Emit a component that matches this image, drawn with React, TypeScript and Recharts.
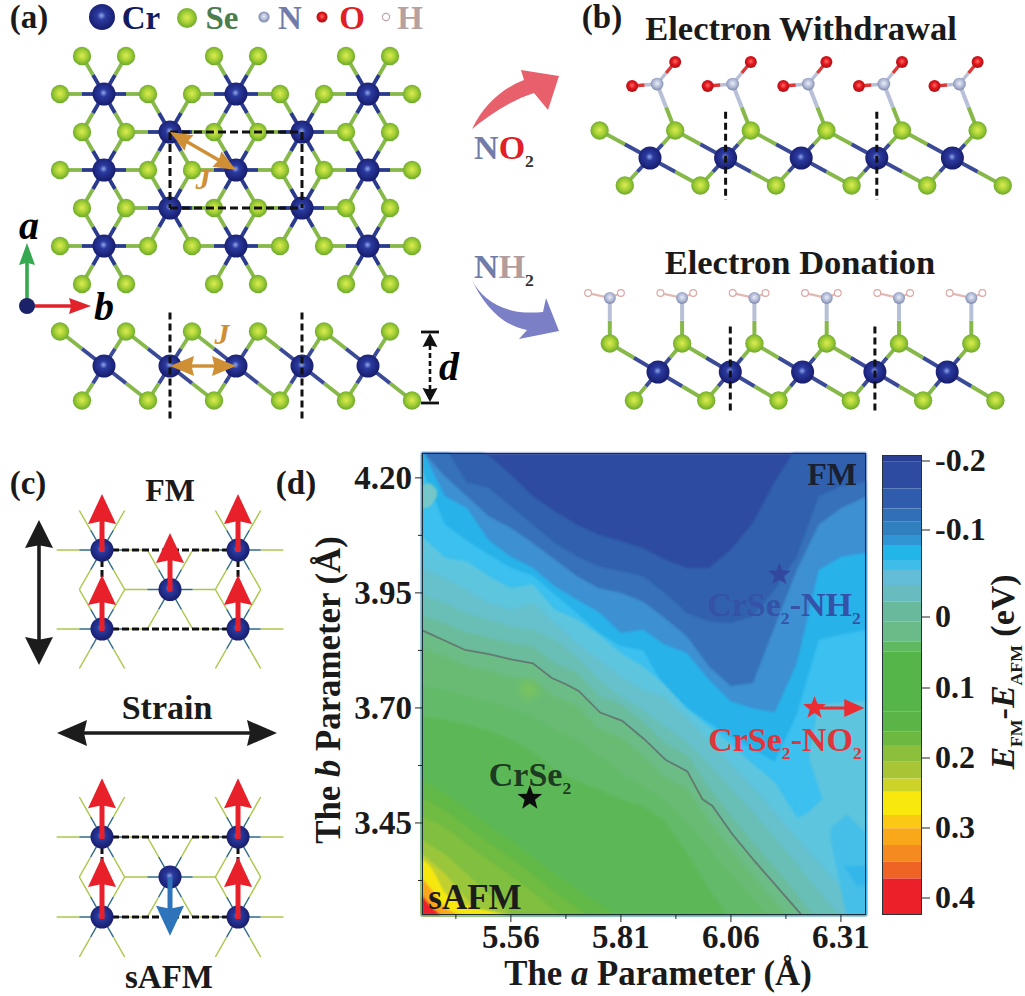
import React from 'react';
import {
  Area, Bar, BarChart, ComposedChart, Line, Scatter, ScatterChart, XAxis, YAxis,
} from 'recharts';

const W = 1025;
const H = 996;

// ---- panel (d) heat map: contour edges, b value at each a column
const aColumns = [5.35, 5.41, 5.46, 5.51, 5.56, 5.61, 5.66, 5.71, 5.76, 5.81, 5.86, 5.91, 5.96, 6.01, 6.06, 6.11, 6.16, 6.21, 6.26, 6.31, 6.37];
const edgeTop = [4.3, 4.3, 4.3, 4.3, 4.3, 4.3, 4.3, 4.3, 4.3, 4.3, 4.3, 4.3, 4.3, 4.3, 4.3, 4.3, 4.3, 4.3, 4.3, 4.3, 4.3];
const edge1 = [4.29, 4.283, 4.265, 4.248, 4.207, 4.16, 4.127, 4.098, 4.076, 4.062, 4.047, 4.022, 4.004, 4.004, 4.044, 4.102, 4.192, 4.268, 4.283, 4.29, 4.29];
const edge2 = [4.283, 4.268, 4.19, 4.178, 4.138, 4.098, 4.058, 4.029, 4.007, 3.997, 3.986, 3.95, 3.906, 3.888, 3.884, 3.899, 3.957, 4.029, 4.16, 4.181, 4.192];
const edge3 = [4.268, 4.203, 4.16, 4.116, 4.091, 4.058, 4.022, 3.986, 3.96, 3.95, 3.931, 3.895, 3.855, 3.79, 3.747, 3.754, 3.877, 4.0, 4.098, 4.134, 4.16];
const edge4 = [4.276, 4.16, 4.134, 4.064, 4.028, 4.004, 3.964, 3.935, 3.908, 3.863, 3.87, 3.837, 3.819, 3.761, 3.714, 3.699, 3.69, 3.797, 4.0, 4.028, 4.037];
const edge5 = [4.24, 4.098, 4.064, 4.033, 4.004, 3.987, 3.946, 3.906, 3.863, 3.834, 3.825, 3.744, 3.701, 3.668, 3.636, 3.61, 3.583, 3.686, 3.848, 3.859, 3.87];
const edge6 = [4.08, 4.026, 4.018, 3.986, 3.96, 3.968, 3.913, 3.892, 3.859, 3.819, 3.79, 3.75, 3.697, 3.659, 3.621, 3.578, 3.538, 3.462, 3.708, 3.712, 3.715];
const edge7 = [4.007, 3.982, 3.957, 3.928, 3.913, 3.928, 3.884, 3.841, 3.805, 3.768, 3.739, 3.723, 3.679, 3.629, 3.578, 3.527, 3.473, 3.418, 3.364, 3.31, 3.259];
const edge8 = [3.949, 3.928, 3.906, 3.892, 3.877, 3.87, 3.848, 3.812, 3.761, 3.725, 3.696, 3.661, 3.625, 3.578, 3.527, 3.473, 3.418, 3.36, 3.302, 3.244, 3.188];
const edge9 = [3.904, 3.884, 3.863, 3.853, 3.841, 3.833, 3.797, 3.777, 3.726, 3.708, 3.67, 3.623, 3.598, 3.527, 3.465, 3.407, 3.353, 3.295, 3.232, 3.174, 3.116];
const edge10 = [3.868, 3.848, 3.826, 3.817, 3.805, 3.797, 3.761, 3.741, 3.69, 3.672, 3.633, 3.586, 3.562, 3.491, 3.429, 3.371, 3.317, 3.259, 3.195, 3.137, 3.079];
const edge11 = [3.831, 3.812, 3.79, 3.781, 3.768, 3.761, 3.725, 3.704, 3.654, 3.636, 3.597, 3.55, 3.525, 3.454, 3.393, 3.335, 3.28, 3.222, 3.16, 3.1, 3.04];
const edge12 = [3.747, 3.739, 3.725, 3.714, 3.7, 3.681, 3.653, 3.631, 3.595, 3.558, 3.529, 3.5, 3.45, 3.392, 3.341, 3.283, 3.225, 3.167, 3.11, 3.05, 3.0];
const edge13 = [3.681, 3.674, 3.663, 3.649, 3.631, 3.602, 3.566, 3.54, 3.522, 3.5, 3.486, 3.453, 3.384, 3.304, 3.239, 3.167, 3.094, 3.0, 2.95, 2.9, 2.85];
const edge14 = [3.549, 3.513, 3.48, 3.443, 3.411, 3.375, 3.338, 3.306, 3.273, 3.244, 3.21];
const edge15 = [3.509, 3.477, 3.442, 3.406, 3.373, 3.337, 3.299, 3.265, 3.23];
const edge16 = [3.469, 3.44, 3.404, 3.368, 3.335, 3.299, 3.259, 3.223, 3.19];
const edge17 = [3.418, 3.382, 3.339, 3.295, 3.252, 3.208];
const edge18 = [3.389, 3.339, 3.284, 3.23];
const edges = [edgeTop, edge1, edge2, edge3, edge4, edge5, edge6, edge7, edge8, edge9, edge10, edge11, edge12, edge13, edge14, edge15, edge16, edge17, edge18];
const edgeColors = ['#2d4ba1', '#3060ae', '#3671b9', '#3d90d2', '#27b2e9', '#3bc0ef', '#5ec5de', '#66c1cc', '#69bfb6', '#6abc9d', '#6cbc86', '#69bb74', '#63ba68', '#5cb856', '#62b947', '#70bb42', '#80bf3f', '#9ac63b', '#c2d02f'];

const yellowZone = [{ a: 5.35, b: 3.375 }, { a: 5.381, b: 3.35 }, { a: 5.41, b: 3.299 }, { a: 5.46, b: 3.27 }, { a: 5.51, b: 3.259 }, { a: 5.56, b: 3.248 }];
const orangeZone = [{ a: 5.35, b: 3.339 }, { a: 5.381, b: 3.303 }, { a: 5.41, b: 3.266 }, { a: 5.46, b: 3.248 }];
const redZone = [{ a: 5.35, b: 3.303 }, { a: 5.381, b: 3.266 }, { a: 5.403, b: 3.248 }];
const paleStrip = [{ a: 5.35, lo: 4.131, hi: 4.182 }, { a: 5.377, lo: 4.138, hi: 4.189 }, { a: 5.392, lo: 4.16, hi: 4.174 }];
const cyanSpike = [{ a: 6.21, lo: 3.46, hi: 3.47 }, { a: 6.234, lo: 3.472, hi: 3.6 }, { a: 6.268, lo: 3.502, hi: 3.502 }];
const cyanRight = [{ a: 6.287, lo: 3.411, hi: 3.44 }, { a: 6.325, lo: 3.24, hi: 3.469 }, { a: 6.347, lo: 3.24, hi: 3.447 }, { a: 6.37, lo: 3.24, hi: 3.426 }];
const cyanCorner = [{ a: 6.317, lo: 3.357, hi: 3.357 }, { a: 6.347, lo: 3.313, hi: 3.357 }, { a: 6.37, lo: 3.317, hi: 3.357 }];
const zeroContour = [
  { a: 5.36, b: 3.868 }, { a: 5.456, b: 3.826 }, { a: 5.51, b: 3.817 }, { a: 5.563, b: 3.805 }, { a: 5.61, b: 3.797 },
  { a: 5.653, b: 3.765 }, { a: 5.684, b: 3.752 }, { a: 5.714, b: 3.737 }, { a: 5.763, b: 3.69 }, { a: 5.813, b: 3.672 },
  { a: 5.863, b: 3.632 }, { a: 5.912, b: 3.587 }, { a: 5.961, b: 3.562 }, { a: 5.995, b: 3.502 }, { a: 6.018, b: 3.487 },
  { a: 6.063, b: 3.426 }, { a: 6.113, b: 3.368 }, { a: 6.166, b: 3.31 }, { a: 6.219, b: 3.252 },
];
const greenSpot = [{ a: 5.6, b: 3.74 }];
const pristineStar = [{ a: 5.603, b: 3.504 }];
const nh2Star = [{ a: 6.17, b: 3.99 }];
const no2Star = [{ a: 6.25, b: 3.7 }];
const no2Shift = [{ a: 6.25, b: 3.7 }, { a: 6.335, b: 3.7 }];
const no2Tip = [{ a: 6.363, b: 3.7 }];

const aMajor = [5.56, 5.81, 6.06, 6.31];
const aTicks = [5.435, 5.56, 5.685, 5.81, 5.935, 6.06, 6.185, 6.31];
const bMajor = [3.45, 3.7, 3.95, 4.2];
const bTicks = [3.325, 3.45, 3.575, 3.7, 3.825, 3.95, 4.075, 4.2];

// colour bar bands (span along the bar) and its uneven tick places
const barSpans = [6.7, 26.7, 20, 13.3, 13.3, 10, 15, 10, 15, 16.7, 20, 20, 10, 60, 20, 13.3, 16.7, 16.7, 13.3, 23.3, 13.3, 16.7, 16.7, 16.7, 36.7];
const barColors = ['#2a3f94', '#2d4ba0', '#2f5cad', '#3070b8', '#3080c0', '#2f95d5', '#22b5e8', '#3dbde8', '#63bcd8', '#68bcc0', '#69ba9c', '#6abb88', '#60b860', '#55b548', '#5ab446', '#6cb840', '#8cbf3c', '#a8c536', '#cdd328', '#f9e80b', '#fbc914', '#f9a81a', '#f48a20', '#ef6424', '#ec2028'];
const barTicks = [6, 75, 162, 233, 303, 373, 443];
const barLabels = ['-0.2', '-0.1', '0', '0.1', '0.2', '0.3', '0.4'];

// ---- lattice sites, in units of the sheet each one is drawn on
const topCr = [[0, 0], [6, 0], [12, 0], [3, 1], [9, 1], [0, 2], [6, 2], [12, 2], [3, 3], [9, 3], [0, 4], [6, 4], [12, 4]];
const seOddRow = [-1, 1, 5, 7, 11, 13];
const seEvenRow = [-2, 2, 4, 8, 10, 14];
const seRows = [-1, 1, 3, 5];
const seEvenRows = [0, 2, 4];
const seOffsets = [[-2, 0], [2, 0], [-1, -1], [1, -1], [-1, 1], [1, 1]];
const sideCr = [0, 3, 6, 9, 12];
const sideSeTop = [-2, 1, 4, 7, 10, 13];
const sideSeBottom = [-1, 2, 5, 8, 11, 14];
const sideOffsets = [[-2, -1], [1, -1], [-1, 1], [2, 1]];
const cellCr = [[0, 0], [6, 0], [3, 1], [0, 2], [6, 2]];
const spinUpFm = [[0, 0, -1.42], [6, 0, -1.42], [3, 1, -0.43], [0, 2, 0.63], [6, 2, 0.63]];
const spinUpAfm = [[0, 0, -1.47], [6, 0, -1.47], [0, 2, 0.5], [6, 2, 0.5]];

const SERIF = '"Liberation Serif", serif';
const noDot = () => <g />;

const seg = (key: string, a: number[], b: number[], stroke: string, width: number, dash?: string) => (
  <Scatter
    key={key}
    data={[{ x: a[0], y: a[1] }, { x: b[0], y: b[1] }]}
    line={{ stroke, strokeWidth: width, strokeDasharray: dash }}
    shape={noDot}
    legendType="none"
    isAnimationActive={false}
  />
);

const bond = (key: string, a: number[], b: number[], colorA: string, colorB: string, width: number) => {
  const mid = [(a[0] + b[0]) / 2, (a[1] + b[1]) / 2];
  return [seg(key + 'a', a, mid, colorA, width), seg(key + 'b', mid, b, colorB, width)];
};

const balls = (key: string, sites: number[][], r: number, fill: string, stroke?: string) => (
  <Scatter
    key={key}
    data={sites.map(([x, y]) => ({ x, y }))}
    shape={(p: any) => <circle cx={p.cx} cy={p.cy} r={r} fill={fill} stroke={stroke} strokeWidth={stroke ? 1.2 : 0} />}
    legendType="none"
    isAnimationActive={false}
  />
);

const head = (key: string, tip: number[], deg: number, len: number, hw: number, color: string) => (
  <Scatter
    key={key}
    data={[{ x: tip[0], y: tip[1] }]}
    shape={(p: any) => (
      <polygon
        points={`0,0 ${-len},${hw} ${-len * 0.9},0 ${-len},${-hw}`}
        transform={`translate(${p.cx},${p.cy}) rotate(${deg})`}
        fill={color}
      />
    )}
    legendType="none"
    isAnimationActive={false}
  />
);

// arrow between two sheet points; ux, uy turn sheet units into pixels for the head angle
const arrow = (key: string, from: number[], to: number[], color: string, width: number, len: number, hw: number, both: boolean, ux: number, uy: number) => {
  const dx = (to[0] - from[0]) * ux;
  const dy = (to[1] - from[1]) * uy;
  const size = Math.hypot(dx, dy);
  const deg = (Math.atan2(dy, dx) * 180) / Math.PI;
  const t = (len * 0.8) / size;
  const end = [to[0] - (to[0] - from[0]) * t, to[1] - (to[1] - from[1]) * t];
  const start = both ? [from[0] + (to[0] - from[0]) * t, from[1] + (to[1] - from[1]) * t] : from;
  const parts = [seg(key + 's', start, end, color, width), head(key + 'h', to, deg, len, hw, color)];
  if (both) parts.push(head(key + 't', from, deg + 180, len, hw, color));
  return parts;
};

const Sheet = ({ ox, oy, ux, uy, children }: any) => (
  <div style={{ position: 'absolute', left: 0, top: 0 }}>
    <ScatterChart width={W} height={H} margin={{ top: 0, right: 0, bottom: 0, left: 0 }}>
      <XAxis type="number" dataKey="x" domain={[-ox / ux, (W - ox) / ux]} hide allowDataOverflow />
      <YAxis type="number" dataKey="y" domain={[-oy / uy, (H - oy) / uy]} reversed hide allowDataOverflow />
      {children}
    </ScatterChart>
  </div>
);

const T = ({ x, y, size = 33, color = '#1a1a1a', italic, rotate, children }: any) => (
  <div
    style={{
      position: 'absolute', left: x, top: y, whiteSpace: 'nowrap', lineHeight: 1,
      fontFamily: SERIF, fontWeight: 700, fontSize: size, color,
      fontStyle: italic ? 'italic' : 'normal',
      transform: `translate(-50%,-50%) rotate(${rotate || 0}deg)`,
    }}
  >
    {children}
  </div>
);
const Sub = ({ children, color }: any) => (
  <sub style={{ fontSize: '0.52em', lineHeight: 0, color }}>{children}</sub>
);

const SE_GREEN = '#86b84a';
const CR_NAVY = '#2a3a8c';

const topSe = [
  ...seRows.flatMap((r) => seOddRow.map((x) => [x, r])),
  ...seEvenRows.flatMap((r) => seEvenRow.map((x) => [x, r])),
];
const sideSe = [...sideSeTop.map((x) => [x, -1]), ...sideSeBottom.map((x) => [x, 1])];

const TopView = () => (
  <Sheet ox={104} oy={94} ux={22} uy={38}>
    {topCr.flatMap(([x, y], i) => seOffsets.flatMap(([dx, dy], j) => bond(`b${i}-${j}`, [x + dx, y + dy], [x, y], SE_GREEN, CR_NAVY, 3.8)))}
    {balls('se', topSe, 9.2, 'url(#seBall)')}
    {balls('cr', topCr, 11.5, 'url(#crBall)')}
    {seg('d1', [3, 1], [9, 1], '#111', 3, '8 4')}
    {seg('d2', [3, 3], [9, 3], '#111', 3, '8 4')}
    {seg('d3', [3, 1], [3, 3], '#111', 3, '8 4')}
    {seg('d4', [9, 1], [9, 3], '#111', 3, '8 4')}
    {arrow('j', [3, 1], [6, 2], '#cf8f35', 3.4, 22, 9, true, 22, 38)}
  </Sheet>
);

const SideA = () => (
  <Sheet ox={104} oy={366} ux={22} uy={34.5}>
    {sideCr.flatMap((x, i) => sideOffsets.flatMap(([dx, dy], j) => bond(`b${i}-${j}`, [x + dx, dy], [x, 0], SE_GREEN, '#3a4a96', 3.8)))}
    {balls('se', sideSe, 9.2, 'url(#seBall)')}
    {balls('cr', sideCr.map((x) => [x, 0]), 11.5, 'url(#crBall)')}
    {seg('d1', [3, -1.55], [3, 1.55], '#111', 3, '7 4')}
    {seg('d2', [9, -1.55], [9, 1.55], '#111', 3, '7 4')}
    {arrow('j', [3, 0], [6, 0], '#cf8f35', 3.4, 24, 10, true, 22, 34.5)}
  </Sheet>
);

const SideNo2 = () => (
  <Sheet ox={650} oy={158} ux={25.2} uy={27.5}>
    {sideCr.flatMap((x, i) => sideOffsets.flatMap(([dx, dy], j) => bond(`b${i}-${j}`, [x + dx, dy], [x, 0], SE_GREEN, '#3a4a96', 3.8)))}
    {sideCr.flatMap((x, i) => [
      ...bond(`n${i}`, [x + 1, -1], [x + 0.28, -2.69], '#86b84a', '#b8c0d8', 4),
      ...bond(`ol${i}`, [x + 0.28, -2.69], [x - 0.71, -2.62], '#b8c0d8', '#d83a3a', 3.4),
      ...bond(`ot${i}`, [x + 0.28, -2.69], [x + 1, -3.49], '#b8c0d8', '#d83a3a', 3.4),
    ])}
    {balls('se', sideSe, 9.2, 'url(#seBall)')}
    {balls('cr', sideCr.map((x) => [x, 0]), 11.5, 'url(#crBall)')}
    {balls('n', sideCr.map((x) => [x + 0.28, -2.69]), 6.4, 'url(#nBall)')}
    {balls('ol', sideCr.map((x) => [x - 0.71, -2.62]), 6, 'url(#oBall)')}
    {balls('ot', sideCr.map((x) => [x + 1, -3.49]), 6, 'url(#oBall)')}
    {seg('d1', [3, -1.68], [3, 1.53], '#111', 3, '7 4')}
    {seg('d2', [9, -1.68], [9, 1.53], '#111', 3, '7 4')}
  </Sheet>
);

const SideNh2 = () => (
  <Sheet ox={658} oy={372} ux={24.1} uy={28.5}>
    {sideCr.flatMap((x, i) => sideOffsets.flatMap(([dx, dy], j) => bond(`b${i}-${j}`, [x + dx, dy], [x, 0], SE_GREEN, '#3a4a96', 3.8)))}
    {sideSeTop.flatMap((x, i) => [
      ...bond(`n${i}`, [x, -1], [x, -2.6], '#86b84a', '#b8c0d8', 4),
      seg(`hl${i}`, [x, -2.6], [x - 0.9, -2.77], '#e3b9b6', 2.2),
      seg(`hr${i}`, [x, -2.6], [x + 0.46, -2.77], '#e3b9b6', 2.2),
    ])}
    {balls('se', sideSe, 9.2, 'url(#seBall)')}
    {balls('cr', sideCr.map((x) => [x, 0]), 11.5, 'url(#crBall)')}
    {balls('n', sideSeTop.map((x) => [x, -2.6]), 6, 'url(#nBall)')}
    {balls('hl', sideSeTop.map((x) => [x - 0.9, -2.77]), 3.4, '#fff', '#dca9a6')}
    {balls('hr', sideSeTop.map((x) => [x + 0.46, -2.77]), 3.4, '#fff', '#dca9a6')}
    {seg('d1', [3, -1.6], [3, 1.47], '#111', 3, '7 4')}
    {seg('d2', [9, -1.6], [9, 1.47], '#111', 3, '7 4')}
  </Sheet>
);

const CellView = ({ oy, uy, spins, down }: any) => (
  <Sheet ox={102} oy={oy} ux={22.67} uy={uy}>
    {cellCr.flatMap(([x, y], i) => seOffsets.flatMap(([dx, dy], j) => bond(`b${i}-${j}`, [x + dx, y + dy], [x, y], '#a9c84a', '#2f6a86', 1.5)))}
    {seg('d1', [0, 0], [6, 0], '#111', 3, '7 3')}
    {seg('d2', [0, 2], [6, 2], '#111', 3, '7 3')}
    {seg('d3', [0, 0], [0, 2], '#111', 3, '7 3')}
    {seg('d4', [6, 0], [6, 2], '#111', 3, '7 3')}
    {balls('cr', cellCr, 11.5, 'url(#crBall)')}
    {spins.flatMap(([x, y, tip]: number[], i: number) => arrow(`s${i}`, [x, y + 0.05], [x, tip], '#e8202a', 5, 30, 14, false, 22.67, uy))}
    {down ? arrow('down', [3, 1], [3, 2.47], '#2e74bb', 5, 30, 14, false, 22.67, uy) : null}
  </Sheet>
);

// pixel-scaled sheet for the legend balls and the loose arrows
const Decor = () => (
  <Sheet ox={0} oy={0} ux={1} uy={1}>
    <Scatter
      data={[{ x: 0, y: 0 }]}
      shape={(p: any) => (
        <g transform={`translate(${p.cx},${p.cy})`}>
          <path d="M472,129 C484,104 503,88 524,80 L521,70 L559,76 L548,110 L534,93 C514,99 492,113 472,129Z" fill="#e7606c" />
          <path d="M472,280 C482,300 505,316 543,312 L546,298 L559,331 L519,339 L527,330 C503,326 484,306 472,280Z" fill="#7a7fc6" />
        </g>
      )}
      legendType="none"
      isAnimationActive={false}
    />
    {balls('lcr', [[102, 17]], 13, 'url(#crBall)')}
    {balls('lse', [[187, 18]], 10, 'url(#seBall)')}
    {balls('ln', [[264, 17]], 5, 'url(#nBall)', '#8b93b8')}
    {balls('lo', [[322, 17]], 5.5, 'url(#oBall)')}
    {balls('lh', [[386, 17]], 3.6, '#fff', '#b9a5a5')}
    {arrow('ta', [27, 306], [27, 243], '#35a850', 3.6, 22, 8, false, 1, 1)}
    {arrow('tb', [27, 306], [91, 306], '#e1222a', 3.6, 22, 8, false, 1, 1)}
    {balls('to', [[27, 306]], 8, '#1c2268')}
    {seg('dt', [421, 332], [439, 332], '#111', 2.8)}
    {seg('db', [421, 403], [439, 403], '#111', 2.8)}
    {seg('dm', [430, 345], [430, 392], '#111', 2.6, '5 3')}
    {head('dh1', [430, 333], -90, 14, 7.5, '#111')}
    {head('dh2', [430, 402], 90, 14, 7.5, '#111')}
    {arrow('cv', [39, 520], [39, 665], '#1c1c1c', 3.6, 28, 14, true, 1, 1)}
    {arrow('ch', [57, 733], [277, 733], '#1c1c1c', 3.6, 30, 13, true, 1, 1)}
  </Sheet>
);

const tableRows = aColumns.map((a, i) => {
  const row: Record<string, number | undefined> = { a };
  edges.forEach((edge, j) => { row[`e${j}`] = edge[i]; });
  return row;
});
const barRow: Record<string, any> = { name: 'bar' };
barSpans.forEach((span, i) => { barRow[`s${i}`] = span; });

const AxisA = ({ x, y, payload }: any) => {
  const major = aMajor.includes(payload.value);
  return (
    <g>
      <line x1={x} y1={y} x2={x} y2={y + (major ? 7 : 4)} stroke="#222" strokeWidth={1} />
      {major ? (
        <text x={x} y={y + 33} textAnchor="middle" fontFamily={SERIF} fontWeight={700} fontSize={33} fill="#1a1a1a">
          {payload.value.toFixed(2)}
        </text>
      ) : null}
    </g>
  );
};
const AxisB = ({ x, y, payload }: any) => {
  const major = bMajor.includes(payload.value);
  return (
    <g>
      <line x1={x} y1={y} x2={x - (major ? 7 : 4)} y2={y} stroke="#222" strokeWidth={1} />
      {major ? (
        <text x={x - 10} y={y + 11} textAnchor="end" fontFamily={SERIF} fontWeight={700} fontSize={33} fill="#1a1a1a">
          {payload.value.toFixed(2)}
        </text>
      ) : null}
    </g>
  );
};
const AxisBar = ({ x, y, payload }: any) => (
  <g>
    <line x1={x} y1={y} x2={x + 8} y2={y} stroke="#222" strokeWidth={1} />
    <text x={x + 13} y={y + 10} textAnchor="start" fontFamily={SERIF} fontWeight={700} fontSize={32} fill="#1a1a1a">
      {barLabels[barTicks.indexOf(payload.value)]}
    </text>
  </g>
);

const star = (r: number, fill: string) => (p: any) => {
  const pts = [];
  for (let i = 0; i < 10; i++) {
    const rad = i % 2 ? r * 0.42 : r;
    const ang = (-90 + i * 36) * (Math.PI / 180);
    pts.push(`${p.cx + rad * Math.cos(ang)},${p.cy + rad * Math.sin(ang)}`);
  }
  return <polygon points={pts.join(' ')} fill={fill} />;
};

const rangeKey = (r: any) => [r.lo, r.hi];

const HeatMap = () => (
  <div className="heat" style={{ position: 'absolute', left: 310, top: 445 }}>
    <style>{'.heat .recharts-area{filter:blur(0.9px)}'}</style>
    <ComposedChart width={570} height={545} data={tableRows} margin={{ top: 8, right: 14, bottom: 0, left: 0 }}>
      <XAxis type="number" dataKey="a" domain={[5.358, 6.367]} ticks={aTicks} interval={0} tick={<AxisA />} tickLine={false} axisLine={false} tickSize={0} tickMargin={0} height={75} allowDataOverflow />
      <YAxis type="number" domain={[3.25, 4.254]} ticks={bTicks} interval={0} tick={<AxisB />} tickLine={false} axisLine={false} tickSize={0} tickMargin={0} width={112} allowDataOverflow />
      {edges.map((_, j) => (
        <Area key={j} dataKey={`e${j}`} type="linear" fill={edgeColors[j]} fillOpacity={1} stroke={edgeColors[j]} strokeWidth={0.5} isAnimationActive={false} dot={false} activeDot={false} />
      ))}
      <Area data={yellowZone} dataKey="b" type="monotone" fill="#f6e80f" fillOpacity={1} stroke="none" isAnimationActive={false} />
      <Area data={orangeZone} dataKey="b" type="monotone" fill="#f9a81a" fillOpacity={1} stroke="none" isAnimationActive={false} />
      <Area data={redZone} dataKey="b" type="monotone" fill="#ec2028" fillOpacity={1} stroke="none" isAnimationActive={false} />
      <Area data={paleStrip} dataKey={rangeKey} type="linear" fill="#7cc9c4" fillOpacity={0.9} stroke="none" isAnimationActive={false} />
      <Area data={cyanSpike} dataKey={rangeKey} type="linear" fill="#3bc0ef" fillOpacity={1} stroke="none" isAnimationActive={false} />
      <Area data={cyanRight} dataKey={rangeKey} type="linear" fill="#45bfe8" fillOpacity={1} stroke="none" isAnimationActive={false} />
      <Area data={cyanCorner} dataKey={rangeKey} type="linear" fill="#33b6ea" fillOpacity={1} stroke="none" isAnimationActive={false} />
      <Line data={zeroContour} dataKey="b" type="linear" stroke="#627a72" strokeWidth={1.8} dot={false} activeDot={false} isAnimationActive={false} />
      <Scatter data={greenSpot} dataKey="b" shape={(p: any) => <circle cx={p.cx} cy={p.cy} r={15} fill="url(#spot)" />} isAnimationActive={false} />
      <Scatter data={pristineStar} dataKey="b" shape={star(13, '#0c0c0c')} isAnimationActive={false} />
      <Scatter data={nh2Star} dataKey="b" shape={star(12, '#34479f')} isAnimationActive={false} />
      <Line data={no2Shift} dataKey="b" stroke="#ea2d33" strokeWidth={3} dot={false} activeDot={false} isAnimationActive={false} />
      <Scatter data={no2Tip} dataKey="b" shape={(p: any) => <polygon points={`${p.cx},${p.cy} ${p.cx - 20},${p.cy - 9} ${p.cx - 20},${p.cy + 9}`} fill="#ea2d33" />} isAnimationActive={false} />
      <Scatter data={no2Star} dataKey="b" shape={star(12, '#ea2d33')} isAnimationActive={false} />
    </ComposedChart>
  </div>
);

const ColourBar = () => (
  <div style={{ position: 'absolute', left: 882, top: 425 }}>
    <BarChart width={143} height={510} data={[barRow]} margin={{ top: 30, right: 0, bottom: 20, left: 0 }} barCategoryGap={0}>
      <XAxis dataKey="name" hide />
      <YAxis type="number" orientation="right" domain={[0, 460]} reversed ticks={barTicks} interval={0} tick={<AxisBar />} tickLine={false} axisLine={false} tickSize={0} tickMargin={0} width={103} allowDataOverflow />
      {barSpans.map((_, i) => (
        <Bar key={i} dataKey={`s${i}`} stackId="cb" fill={barColors[i]} isAnimationActive={false} />
      ))}
    </BarChart>
  </div>
);

export default function App() {
  return (
    <div style={{ position: 'absolute', left: 0, top: 0, width: W, height: H, background: '#fff', overflow: 'hidden' }}>
      <svg width={0} height={0} style={{ position: 'absolute' }}>
        <defs>
          <radialGradient id="crBall" cx="0.48" cy="0.45" r="0.55">
            <stop offset="0" stopColor="#8fa6e6" />
            <stop offset="0.3" stopColor="#2b3a9f" />
            <stop offset="1" stopColor="#161c6c" />
          </radialGradient>
          <radialGradient id="seBall" cx="0.5" cy="0.48" r="0.55">
            <stop offset="0" stopColor="#dcec52" />
            <stop offset="0.5" stopColor="#a6d035" />
            <stop offset="1" stopColor="#64a42c" />
          </radialGradient>
          <radialGradient id="nBall" cx="0.5" cy="0.45" r="0.55">
            <stop offset="0" stopColor="#e9edf6" />
            <stop offset="0.6" stopColor="#aeb7d4" />
            <stop offset="1" stopColor="#7f89ad" />
          </radialGradient>
          <radialGradient id="oBall" cx="0.5" cy="0.45" r="0.55">
            <stop offset="0" stopColor="#ff6a60" />
            <stop offset="0.5" stopColor="#e0161e" />
            <stop offset="1" stopColor="#a81015" />
          </radialGradient>
          <radialGradient id="spot">
            <stop offset="0" stopColor="#7cc45c" stopOpacity={0.9} />
            <stop offset="1" stopColor="#7cc45c" stopOpacity={0} />
          </radialGradient>
        </defs>
      </svg>
      <HeatMap />
      <ColourBar />
      <div style={{ position: 'absolute', left: 422, top: 453, width: 444, height: 462, border: '1px solid #1d2a33', boxSizing: 'border-box' }} />
      <div style={{ position: 'absolute', left: 882, top: 455, width: 40, height: 460, border: '1px solid #26323c', boxSizing: 'border-box' }} />
      <TopView />
      <SideA />
      <SideNo2 />
      <SideNh2 />
      <CellView oy={550} uy={39.5} spins={spinUpFm} />
      <CellView oy={837} uy={40} spins={spinUpAfm} down />
      <Decor />

      <T x={29} y={17}>(a)</T>
      <T x={141} y={18} color="#141a5e">Cr</T>
      <T x={222} y={18} color="#4c7d4c">Se</T>
      <T x={290} y={18} color="#727ca9">N</T>
      <T x={352} y={18} color="#e01f26">O</T>
      <T x={410} y={18} color="#b7a0a0">H</T>
      <T x={29} y={226} size={40} italic color="#000">a</T>
      <T x={104} y={307} size={40} italic color="#000">b</T>
      <T x={203} y={179} size={30} italic color="#cf8f35">J</T>
      <T x={222} y={334} size={30} italic color="#cf8f35">J</T>
      <T x={449} y={367} size={40} italic color="#000">d</T>

      <T x={602} y={17}>(b)</T>
      <T x={801} y={28} size={34.5}>Electron Withdrawal</T>
      <T x={800} y={262} size={34.5}>Electron Donation</T>
      <T x={504} y={148} size={34}>
        <span style={{ color: '#727ca9' }}>N</span><span style={{ color: '#e01f26' }}>O</span><Sub color="#333">2</Sub>
      </T>
      <T x={504} y={267} size={34}>
        <span style={{ color: '#727ca9' }}>N</span><span style={{ color: '#b39c9c' }}>H</span><Sub color="#333">2</Sub>
      </T>

      <T x={28} y={483}>(c)</T>
      <T x={170} y={490} size={32}>FM</T>
      <T x={167} y={708} size={34}>Strain</T>
      <T x={169} y={977} size={33}>sAFM</T>
      <T x={296} y={483}>(d)</T>

      <T x={832} y={474} size={32} color="#1a2030">FM</T>
      <T x={475} y={897} size={35} color="#1c1c1c">sAFM</T>
      <T x={530} y={775} size={34} color="#1d3a22">CrSe<Sub>2</Sub></T>
      <T x={784} y={605} size={34} color="#3552a8">CrSe<Sub>2</Sub>-NH<Sub>2</Sub></T>
      <T x={785} y={740} size={34} color="#e0353a">CrSe<Sub>2</Sub>-NO<Sub>2</Sub></T>

      <T x={658} y={974} size={34.8}>The <i>a</i> Parameter (Å)</T>
      <T x={329} y={690} rotate={-90} size={34.8}>The <i>b</i> Parameter (Å)</T>
      <T x={1003} y={672} rotate={-90} size={34}><i>E</i><Sub>FM</Sub>-<i>E</i><Sub>AFM</Sub> (eV)</T>
    </div>
  );
}
